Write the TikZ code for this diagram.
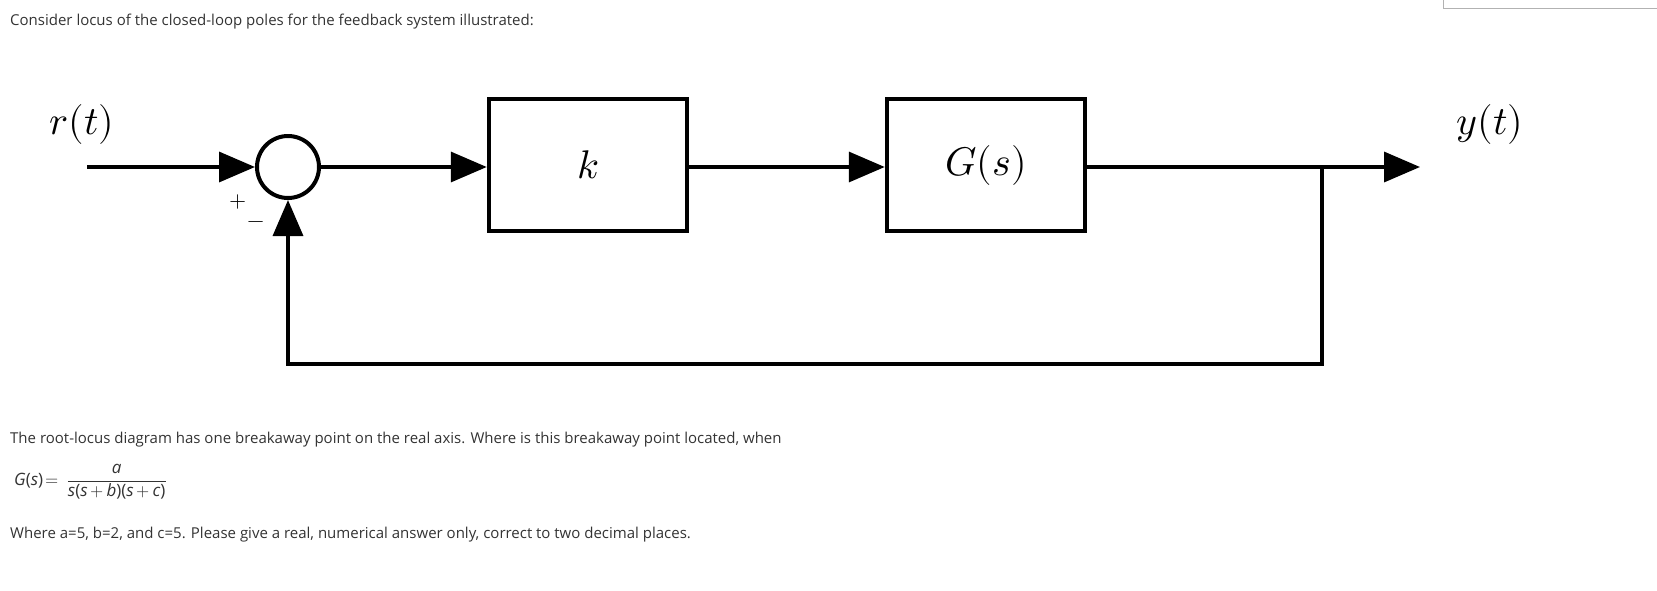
\documentclass[tikz,border=0pt]{standalone}
\usepackage{fontspec}
\setmainfont{Open Sans}
\usepackage{unicode-math}
\setmathfont{Latin Modern Math}
\usetikzlibrary{arrows.meta}
\newcommand{\iv}[1]{\textit{#1}}
\begin{document}
\begin{tikzpicture}[x=1pt,y=-1pt,
  wire/.style={line width=3.5pt},
  arr/.style={wire,-{Triangle[length=36pt,width=30pt]}},
  blk/.style={draw,line width=4.5pt,minimum width=198pt,minimum height=132pt,font=\fontsize{40}{40}\selectfont},
  txt/.style={anchor=west,text=black!80,font=\fontsize{15}{18}\selectfont,inner sep=0}]
\useasboundingbox (0,0) rectangle (1657,590);
\draw[gray!60] (1443,8) -- (1443,0);
\draw[gray!60] (1443,8) -- (1657,8);
\node[txt] (t1) at (10,22) {Consider locus of the closed-loop poles for the feedback system illustrated:};
\node (r) at (82,124) {\fontsize{40}{40}\selectfont $r(t)$};
\node (y) at (1490,124) {\fontsize{40}{40}\selectfont $y(t)$};
\coordinate (in) at (87,167);
\node[draw,circle,line width=4pt,minimum size=62pt,inner sep=0] (sum) at (288,167) {};
\node[blk] (k) at (588,165) {$k$};
\node[blk] (G) at (986,165) {$G(s)$};
\coordinate (out) at (1420,167);
\coordinate (br) at (1322,167);
\coordinate (c1) at (1322,364);
\coordinate (c2) at (288,364);
\draw[arr] (in) -- (sum);
\draw[arr] (sum) -- (k.west|-sum);
\draw[arr] (k.east|-sum) -- (G.west|-sum);
\draw[arr] (G.east|-sum) -- (out);
\draw[arr] (br) -- (c1) -- (c2) -- (sum);
\node (plus) at (238,202) {\fontsize{22}{22}\selectfont $+$};
\node (minus) at (256,225) {\fontsize{22}{22}\selectfont $-$};
\node[txt] (t2) at (10,440) {The root-locus diagram has one breakaway point on the real axis. Where is this breakaway point located, when};
\node[txt,font=\fontsize{17}{20}\selectfont] (t3) at (14,482) {\iv{G}(\iv{s})$\,=\,\dfrac{\text{\iv{a}}}{\text{\iv{s}(\iv{s}\,$+$\,\iv{b})(\iv{s}\,$+$\,\iv{c})}}$};
\node[txt] (t4) at (10,535) {Where a=5, b=2, and c=5. Please give a real, numerical answer only, correct to two decimal places.};
\end{tikzpicture}
\end{document}
